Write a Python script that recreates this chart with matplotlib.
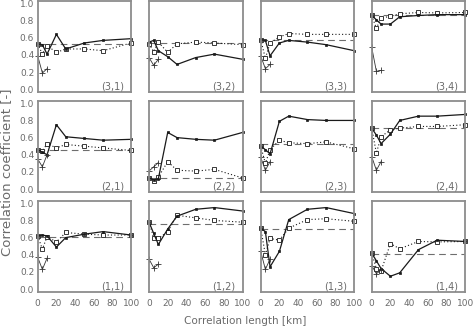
import matplotlib
matplotlib.use("Agg")
import matplotlib.pyplot as plt

# ---------------- data ----------------
x_main = [0, 5, 10, 20, 30, 50, 70, 100]
x_plus = [0, 5, 10]

panel_labels = ["(3,1)", "(3,2)", "(3,3)", "(3,4)",
                "(2,1)", "(2,2)", "(2,3)", "(2,4)",
                "(1,1)", "(1,2)", "(1,3)", "(1,4)"]

solid = [
    [0.53, 0.52, 0.41, 0.64, 0.47, 0.54, 0.57, 0.59],
    [0.55, 0.57, 0.45, 0.38, 0.29, 0.37, 0.41, 0.35],
    [0.58, 0.57, 0.39, 0.54, 0.57, 0.55, 0.52, 0.45],
    [0.86, 0.81, 0.76, 0.76, 0.845, 0.86, 0.87, 0.87],
    [0.46, 0.43, 0.40, 0.75, 0.61, 0.59, 0.57, 0.58],
    [0.13, 0.11, 0.12, 0.66, 0.60, 0.58, 0.57, 0.66],
    [0.50, 0.46, 0.41, 0.79, 0.85, 0.81, 0.80, 0.80],
    [0.71, 0.63, 0.53, 0.64, 0.80, 0.85, 0.85, 0.87],
    [0.62, 0.63, 0.62, 0.49, 0.60, 0.64, 0.67, 0.63],
    [0.78, 0.65, 0.52, 0.70, 0.85, 0.93, 0.95, 0.91],
    [0.71, 0.67, 0.26, 0.44, 0.81, 0.93, 0.95, 0.88],
    [0.42, 0.33, 0.24, 0.15, 0.19, 0.46, 0.57, 0.555],
]

dotted = [
    [0.53, 0.41, 0.51, 0.43, 0.47, 0.47, 0.45, 0.54],
    [0.53, 0.44, 0.55, 0.43, 0.53, 0.55, 0.54, 0.52],
    [0.58, 0.36, 0.54, 0.61, 0.65, 0.64, 0.64, 0.64],
    [0.86, 0.71, 0.83, 0.85, 0.88, 0.895, 0.89, 0.895],
    [0.46, 0.44, 0.53, 0.48, 0.52, 0.50, 0.48, 0.45],
    [0.13, 0.10, 0.14, 0.32, 0.22, 0.21, 0.23, 0.13],
    [0.50, 0.30, 0.46, 0.57, 0.54, 0.53, 0.55, 0.47],
    [0.71, 0.42, 0.61, 0.69, 0.71, 0.73, 0.73, 0.75],
    [0.62, 0.465, 0.61, 0.55, 0.66, 0.64, 0.63, 0.63],
    [0.78, 0.60, 0.59, 0.67, 0.86, 0.83, 0.80, 0.78],
    [0.71, 0.40, 0.59, 0.57, 0.71, 0.81, 0.82, 0.79],
    [0.42, 0.24, 0.21, 0.53, 0.47, 0.555, 0.55, 0.555],
]

dashed = [0.53, 0.54, 0.58, 0.86, 0.45, 0.13, 0.52, 0.71, 0.61, 0.76, 0.70, 0.41]

plus = [
    [0.39, 0.19, 0.24],
    [0.37, 0.28, 0.35],
    [0.39, 0.24, 0.29],
    [0.49, 0.21, 0.22],
    [0.35, 0.26, 0.40],
    [0.21, 0.26, 0.31],
    [0.37, 0.22, 0.32],
    [0.38, 0.22, 0.32],
    [0.37, 0.23, 0.36],
    [0.35, 0.25, 0.29],
    [0.44, 0.23, 0.35],
    [0.275, 0.18, 0.22],
]

y_ticks = [0.0, 0.2, 0.4, 0.6, 0.8, 1.0]
y_ticklabels = ["0.0", "0.2", "0.4", "0.6", "0.8", "1.0"]
x_ticks = [0, 20, 40, 60, 80, 100]
x_ticklabels = ["0", "20", "40", "60", "80", "100"]

# ---------------- style ----------------
W, H = 474, 327
TXT = "#6a6a6a"
FRAME = "#8c8c8c"
LINE = "#1a1a1a"

plt.rcParams["font.family"] = "DejaVu Sans"

fig = plt.figure(figsize=(W / 100, H / 100), dpi=100)

col_left = [37.7, 149.0, 260.7, 371.7]
col_w = 93.5
row_top = [0.9, 100.7, 200.7]
row_h = 91.0

for i in range(12):
    r, c = divmod(i, 4)
    left = col_left[c] / W
    bottom = 1 - (row_top[r] + row_h) / H
    ax = fig.add_axes([left, bottom, col_w / W, row_h / H])
    ax.set_xlim(0, 100)
    ax.set_ylim(-0.03, 1.03)

    ax.axhline(dashed[i], color="#6e6e6e", lw=0.8, dashes=(6, 4))
    ax.plot(x_main, dotted[i], color=LINE, lw=0.8, ls=(0, (1, 2)),
            marker="s", ms=2.6, mfc="white", mec=LINE, mew=0.6, clip_on=False)
    ax.plot(x_main, solid[i], color=LINE, lw=0.9, ls="-",
            marker="s", ms=2.0, mfc=LINE, mec=LINE, mew=0.5, clip_on=False)
    ax.plot(x_plus, plus[i], color="#333333", lw=0.6, ls="-",
            marker="+", ms=5, mew=0.6, clip_on=False)

    for s in ax.spines.values():
        s.set_color(FRAME)
        s.set_linewidth(1.3)

    ax.set_xticks(x_ticks)
    ax.set_yticks(y_ticks)
    ax.tick_params(length=0, colors=TXT, labelsize=6.5)
    ax.tick_params(axis="y", pad=2.5)
    ax.tick_params(axis="x", pad=5)
    if c == 0:
        ax.set_yticklabels(y_ticklabels)
    else:
        ax.set_yticklabels([])
    if r == 2:
        ax.set_xticklabels(x_ticklabels)
    else:
        ax.set_xticklabels([])

    ax.text(0.925, 0.06, panel_labels[i], transform=ax.transAxes,
            ha="right", va="center", fontsize=7, color=TXT)

fig.text(245 / W, 1 - 321.5 / H, "Correlation length [km]", ha="center",
         va="center", fontsize=7.5, color=TXT)
fig.text(6.5 / W, 1 - 172 / H, "Correlation coefficient [-]", ha="center",
         va="center", rotation=90, fontsize=9.5, color=TXT)

fig.savefig("out.png", dpi=100)
